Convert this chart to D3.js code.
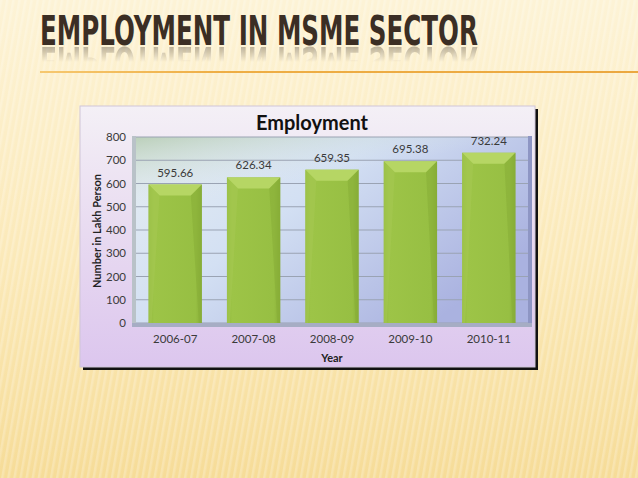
<!DOCTYPE html>
<html>
<head>
<meta charset="utf-8">
<script src="https://cdn.jsdelivr.net/npm/d3@7"></script>
<style>
  html, body { margin: 0; padding: 0; background: #fbeab8; }
  svg { display: block; }
  .tick-text { font-family: Lato, "Open Sans", sans-serif; font-size: 11.5px; fill: #3a3a3a; }
</style>
</head>
<body>
<svg id="slide" width="638" height="478"></svg>
<script>
// chart data
const years = ["2006-07", "2007-08", "2008-09", "2009-10", "2010-11"];
const employment = [595.66, 626.34, 659.35, 695.38, 732.24];
const yTicks = [0, 100, 200, 300, 400, 500, 600, 700, 800];

const slideTitle = "EMPLOYMENT IN MSME SECTOR";
const chartTitle = "Employment";
const xTitle = "Year";
const yTitle = "Number in Lakh Person";

const svg = d3.select("#slide");
const defs = svg.append("defs");

// background of the slide
const bg = defs.append("linearGradient").attr("id", "bg")
  .attr("x1", 0).attr("y1", 0).attr("x2", 0).attr("y2", 1);
bg.append("stop").attr("offset", "0%").attr("stop-color", "#fdf3d6");
bg.append("stop").attr("offset", "55%").attr("stop-color", "#fbe9b8");
bg.append("stop").attr("offset", "100%").attr("stop-color", "#f6dc98");

const stripes = defs.append("pattern").attr("id", "stripes")
  .attr("width", 6).attr("height", 6)
  .attr("patternUnits", "userSpaceOnUse")
  .attr("patternTransform", "rotate(10)");
stripes.append("rect").attr("width", 2.5).attr("height", 6)
  .attr("fill", "#ffffff").attr("opacity", 0.22);

svg.append("rect").attr("width", 638).attr("height", 478).attr("fill", "url(#bg)");
svg.append("rect").attr("width", 638).attr("height", 478).attr("fill", "url(#stripes)");

// slide heading with a faint reflection
const refl = defs.append("linearGradient").attr("id", "refl")
  .attr("gradientUnits", "userSpaceOnUse")
  .attr("x1", 0).attr("y1", 46).attr("x2", 0).attr("y2", 62);
refl.append("stop").attr("offset", "0%").attr("stop-color", "#fff").attr("stop-opacity", 0.35);
refl.append("stop").attr("offset", "100%").attr("stop-color", "#fff").attr("stop-opacity", 0);
defs.append("mask").attr("id", "reflMask")
  .append("rect").attr("x", 0).attr("y", 46).attr("width", 638).attr("height", 18)
  .attr("fill", "url(#refl)");

const head = { x: 40, y: 45, len: 438, size: 40 };
const headG = svg.append("g").attr("id", "heading");
const headText = headG.append("text")
  .attr("x", 0).attr("y", 0)
  .attr("font-family", "'Liberation Sans Narrow', 'DejaVu Sans Condensed', sans-serif")
  .attr("font-weight", "bold")
  .attr("font-size", head.size)
  .attr("fill", "#3b2e24")
  .text(slideTitle);
const sx = head.len / headText.node().getComputedTextLength();
headG.attr("transform", `translate(${head.x}, ${head.y}) scale(${sx}, 1)`);

svg.append("g").attr("mask", "url(#reflMask)")
  .append("use")
  .attr("href", "#heading")
  .attr("transform", `translate(0, ${2 * head.y + 2}) scale(1,-1)`);

// orange rule under the heading
const rule = defs.append("linearGradient").attr("id", "rule");
rule.append("stop").attr("offset", "0%").attr("stop-color", "#f6c870");
rule.append("stop").attr("offset", "30%").attr("stop-color", "#eeae45");
rule.append("stop").attr("offset", "100%").attr("stop-color", "#eba840");
svg.append("rect").attr("x", 40).attr("y", 71).attr("width", 598).attr("height", 2)
  .attr("fill", "url(#rule)");

// chart box
const box = { x: 80, y: 106, w: 455, h: 261 };
const boxFill = defs.append("linearGradient").attr("id", "boxFill")
  .attr("x1", 0).attr("y1", 0).attr("x2", 0).attr("y2", 1);
boxFill.append("stop").attr("offset", "0%").attr("stop-color", "#f4f0f6");
boxFill.append("stop").attr("offset", "45%").attr("stop-color", "#e9dcf1");
boxFill.append("stop").attr("offset", "100%").attr("stop-color", "#dcc6ee");

svg.append("rect").attr("x", box.x + 3).attr("y", box.y + 3)
  .attr("width", box.w).attr("height", box.h).attr("fill", "#111");
svg.append("rect").attr("x", box.x).attr("y", box.y)
  .attr("width", box.w).attr("height", box.h)
  .attr("fill", "url(#boxFill)").attr("stroke", "#cfc6d8").attr("stroke-width", 1);

// plot scales
const plot = { left: 136, right: 528, top: 137, bottom: 323 };
const x = d3.scaleBand().domain(years).range([plot.left, plot.right]).paddingInner(0.32).paddingOuter(0.16);
const y = d3.scaleLinear().domain([0, 800]).range([plot.bottom, plot.top]);

// back wall
const wall = defs.append("linearGradient").attr("id", "wall")
  .attr("x1", 0).attr("y1", 0).attr("x2", 1).attr("y2", 0.6);
wall.append("stop").attr("offset", "0%").attr("stop-color", "#e6eef2");
wall.append("stop").attr("offset", "45%").attr("stop-color", "#d3e0f3");
wall.append("stop").attr("offset", "100%").attr("stop-color", "#aab2e0");
const wallTop = defs.append("linearGradient").attr("id", "wallTop")
  .attr("x1", 0).attr("y1", 0).attr("x2", 0.4).attr("y2", 1);
wallTop.append("stop").attr("offset", "0%").attr("stop-color", "#a9c3a2").attr("stop-opacity", 0.7);
wallTop.append("stop").attr("offset", "35%").attr("stop-color", "#e4ecf0").attr("stop-opacity", 0);

svg.append("rect").attr("x", plot.left).attr("y", plot.top)
  .attr("width", plot.right - plot.left).attr("height", plot.bottom - plot.top)
  .attr("fill", "url(#wall)");
svg.append("rect").attr("x", plot.left).attr("y", plot.top)
  .attr("width", plot.right - plot.left).attr("height", plot.bottom - plot.top)
  .attr("fill", "url(#wallTop)");

// gridlines
svg.append("g").selectAll("line").data(yTicks).join("line")
  .attr("x1", plot.left).attr("x2", plot.right)
  .attr("y1", d => y(d)).attr("y2", d => y(d))
  .attr("stroke", "#9aa3b3").attr("stroke-width", 1);

// wall edges (3d depth)
svg.append("rect").attr("x", plot.left - 4).attr("y", plot.top - 1)
  .attr("width", 4).attr("height", plot.bottom - plot.top + 5).attr("fill", "#b9c2c8");
svg.append("rect").attr("x", plot.right).attr("y", plot.top - 1)
  .attr("width", 4).attr("height", plot.bottom - plot.top + 5).attr("fill", "#8e96c4");
svg.append("rect").attr("x", plot.left - 4).attr("y", plot.bottom)
  .attr("width", plot.right - plot.left + 8).attr("height", 4).attr("fill", "#a6adc4");

// y axis labels
svg.append("g").selectAll("text").data(yTicks).join("text")
  .attr("class", "tick-text")
  .attr("x", 126).attr("y", d => y(d) + 4)
  .attr("text-anchor", "end")
  .text(d => d);

// bars
const barFill = defs.append("linearGradient").attr("id", "barFill")
  .attr("x1", 0).attr("y1", 0).attr("x2", 1).attr("y2", 0);
barFill.append("stop").attr("offset", "0%").attr("stop-color", "#90b83c");
barFill.append("stop").attr("offset", "10%").attr("stop-color", "#9dc447");
barFill.append("stop").attr("offset", "88%").attr("stop-color", "#97bf43");
barFill.append("stop").attr("offset", "100%").attr("stop-color", "#88ae38");

const bev = 11;
const bars = svg.append("g").selectAll("g").data(employment).join("g");

bars.append("rect")
  .attr("x", (d, i) => x(years[i]))
  .attr("y", d => y(d))
  .attr("width", x.bandwidth())
  .attr("height", d => plot.bottom - y(d))
  .attr("fill", "url(#barFill)");

// top bevel
bars.append("polygon")
  .attr("points", (d, i) => {
    const x0 = x(years[i]), x1 = x0 + x.bandwidth(), t = y(d);
    return [[x0, t], [x1, t], [x1 - bev, t + bev], [x0 + bev, t + bev]].join(" ");
  })
  .attr("fill", "#b6d664");
// side bevels
bars.append("polygon")
  .attr("points", (d, i) => {
    const x0 = x(years[i]), t = y(d);
    return [[x0, t], [x0 + bev, t + bev], [x0 + 3, plot.bottom], [x0, plot.bottom]].join(" ");
  })
  .attr("fill", "#a5c852").attr("opacity", 0.6);
bars.append("polygon")
  .attr("points", (d, i) => {
    const x1 = x(years[i]) + x.bandwidth(), t = y(d);
    return [[x1, t], [x1 - bev, t + bev], [x1 - 3, plot.bottom], [x1, plot.bottom]].join(" ");
  })
  .attr("fill", "#86ab36").attr("opacity", 0.5);

// value labels
bars.append("text")
  .attr("class", "tick-text")
  .attr("x", (d, i) => x(years[i]) + x.bandwidth() / 2)
  .attr("y", d => y(d) - 8)
  .attr("text-anchor", "middle")
  .text(d => d.toFixed(2));

// category labels
svg.append("g").selectAll("text").data(years).join("text")
  .attr("class", "tick-text")
  .attr("x", d => x(d) + x.bandwidth() / 2)
  .attr("y", 343)
  .attr("text-anchor", "middle")
  .text(d => d);

// titles
svg.append("text")
  .attr("x", 312).attr("y", 130)
  .attr("text-anchor", "middle")
  .attr("font-family", "Lato, 'Open Sans', sans-serif")
  .attr("font-weight", "bold").attr("font-size", 20)
  .attr("fill", "#111")
  .text(chartTitle);

svg.append("text")
  .attr("x", 332).attr("y", 362)
  .attr("text-anchor", "middle")
  .attr("font-family", "Lato, 'Open Sans', sans-serif")
  .attr("font-weight", "bold").attr("font-size", 11)
  .attr("fill", "#222")
  .text(xTitle);

svg.append("text")
  .attr("transform", "translate(101, 231) rotate(-90)")
  .attr("text-anchor", "middle")
  .attr("font-family", "Lato, 'Open Sans', sans-serif")
  .attr("font-weight", "bold").attr("font-size", 11)
  .attr("fill", "#222")
  .text(yTitle);
</script>
</body>
</html>
